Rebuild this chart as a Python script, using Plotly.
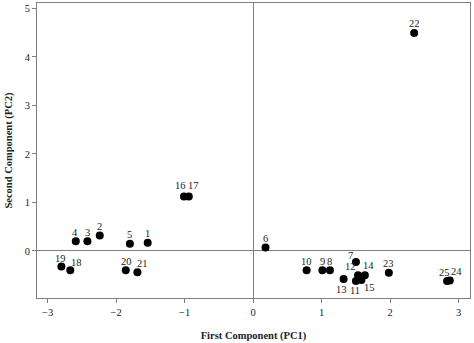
import plotly.graph_objects as go

labels = [str(i) for i in range(1, 26)]
pc1 = [-1.54, -2.24, -2.42, -2.59, -1.80, 0.18, 1.50, 1.12, 1.01, 0.78,
       1.50, 1.53, 1.32, 1.63, 1.58, -1.01, -0.94, -2.67, -2.80, -1.86,
       -1.69, 2.35, 1.98, 2.87, 2.83]
pc2 = [0.17, 0.32, 0.20, 0.20, 0.15, 0.07, -0.23, -0.40, -0.40, -0.40,
       -0.62, -0.50, -0.58, -0.50, -0.60, 1.12, 1.12, -0.40, -0.32, -0.40,
       -0.44, 4.49, -0.45, -0.61, -0.62]
# label offsets from the dot, in pixels (style)
label_dx = [0, 0, 0, -1, 0, 0, -5, 0, 0, 0,
            -1, -8, -2, 4, 8, -4, 5, 6, -1, 1,
            5, 0, 0, 7, -3]
label_dy = [9, 9, 9, 9, 9, 9, 7, 9, 9, 9,
            -9, 9, -10, 10, -7, 11, 11, 8, 8, 9,
            9, 10, 9, 9, 9]

x_ticks = [-3, -2, -1, 0, 1, 2, 3]
y_ticks = [0, 1, 2, 3, 4, 5]

serif = "Liberation Serif, Times New Roman, serif"
grey = "#7f7f7f"
ink = "#222222"

fig = go.Figure(go.Scatter(
    x=pc1, y=pc2, mode="markers",
    marker=dict(color="black", size=8),
    cliponaxis=False, showlegend=False))

for lab, x, y, dx, dy in zip(labels, pc1, pc2, label_dx, label_dy):
    fig.add_annotation(x=x, y=y, text=lab, showarrow=False,
                       xanchor="center", yanchor="middle",
                       xshift=dx, yshift=dy,
                       font=dict(family=serif, size=10.5, color=ink))

axis_common = dict(showline=True, mirror=True, linecolor=grey, linewidth=1,
                   showgrid=False, zeroline=True, zerolinecolor=grey, zerolinewidth=1,
                   ticks="outside", ticklen=4, tickcolor=grey,
                   tickfont=dict(family=serif, size=10.5, color=ink))

fig.update_layout(
    width=474, height=343,
    margin=dict(l=37, r=4, t=3, b=45),
    plot_bgcolor="white", paper_bgcolor="white",
    xaxis=dict(range=[-3.156, 3.165], tickvals=x_ticks,
               title=dict(text="<b>First Component (PC1)</b>", standoff=15,
                          font=dict(family=serif, size=10.5, color=ink)),
               **axis_common),
    yaxis=dict(range=[-0.97, 5.11], tickvals=y_ticks,
               title=dict(text="<b>Second Component (PC2)</b>", standoff=9,
                          font=dict(family=serif, size=10.5, color=ink)),
               **axis_common),
)

fig.write_html("out.html")
